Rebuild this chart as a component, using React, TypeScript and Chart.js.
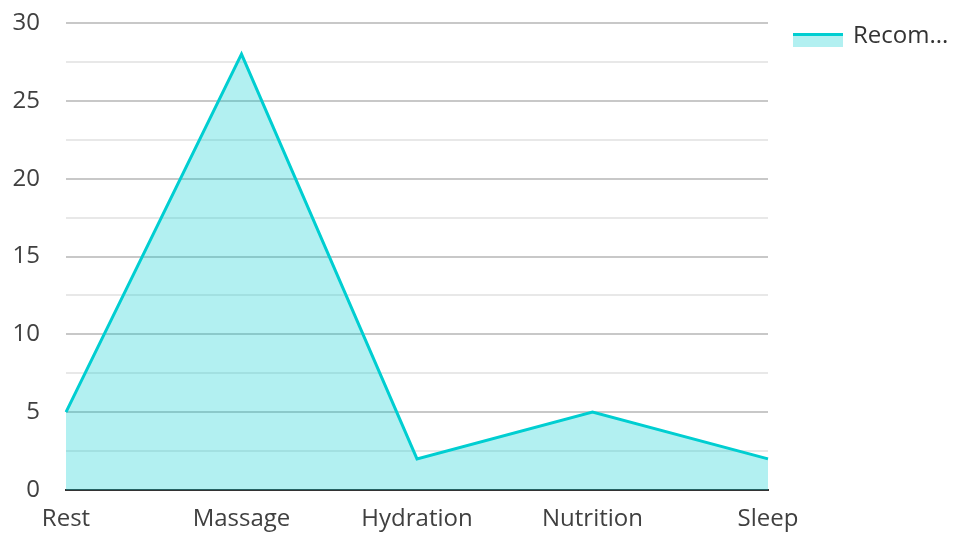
import React, { useEffect, useRef } from "react";
import { Chart, registerables } from "chart.js";

Chart.register(...registerables);

const categories = ["Rest", "Massage", "Hydration", "Nutrition", "Sleep"];
const recommendedValues = [5, 28, 2, 5, 2];
const seriesLabel = "Recom...";
const yMin = 0;
const yMax = 30;
const yStep = 2.5;

const LINE = "#00CED1";
const FILL = "rgba(0,206,209,0.3)";
const FONT = "'Open Sans', 'Noto Sans', sans-serif";
const TEXT = "#404040";
const FONT_SIZE = 24;

const legendPlugin = {
  id: "customLegend",
  afterDraw(chart: any) {
    const ctx = chart.ctx;
    const x = chart.chartArea.right + 25;
    const y = 33;
    ctx.save();
    ctx.fillStyle = FILL;
    ctx.fillRect(x, y, 50, 14);
    ctx.fillStyle = LINE;
    ctx.fillRect(x, y, 50, 3);
    ctx.fillStyle = "#333";
    ctx.font = `${FONT_SIZE}px ${FONT}`;
    ctx.textBaseline = "middle";
    ctx.textAlign = "left";
    ctx.fillText(seriesLabel, x + 60, y + 3);
    ctx.restore();
  },
};

export default function App() {
  const ref = useRef<HTMLCanvasElement | null>(null);
  useEffect(() => {
    if (!ref.current) return;
    const chart = new Chart(ref.current, {
      type: "line",
      data: {
        labels: categories,
        datasets: [
          {
            label: seriesLabel,
            data: recommendedValues,
            borderColor: LINE,
            backgroundColor: FILL,
            borderWidth: 3,
            fill: "origin",
            tension: 0,
            pointRadius: 0,
            pointHoverRadius: 0,
          },
        ],
      },
      options: {
        animation: false,
        responsive: true,
        maintainAspectRatio: false,
        layout: { padding: { left: 0, right: 186, top: 23, bottom: 0 } },
        plugins: {
          legend: { display: false },
          tooltip: { enabled: false },
        },
        scales: {
          x: {
            offset: false,
            grid: { display: false, drawTicks: false },
            border: { display: true, color: "#333", width: 2 },
            afterFit: (s: any) => {
              s.height = 43;
            },
            ticks: {
              color: TEXT,
              font: { size: FONT_SIZE, family: FONT },
              padding: 15,
              maxRotation: 0,
              autoSkip: false,
            },
          },
          y: {
            min: yMin,
            max: yMax,
            border: { display: false },
            afterFit: (s: any) => {
              s.width = 66;
              s.paddingTop = 0;
              s.paddingBottom = 0;
            },
            grid: {
              drawTicks: false,
              color: (c: any) =>
                c.tick && c.tick.value % 5 === 0 ? "#c8c8c8" : "#e8e8e8",
              lineWidth: 2,
            },
            ticks: {
              stepSize: yStep,
              color: TEXT,
              font: { size: FONT_SIZE, family: FONT },
              padding: 26,
              callback: (v: any) => (Number(v) % 5 === 0 ? String(v) : ""),
            },
          },
        },
      },
      plugins: [legendPlugin],
    });
    return () => chart.destroy();
  }, []);
  return (
    <div style={{ position: "fixed", left: 0, top: 0, width: 954, height: 533, background: "#fff" }}>
      <canvas ref={ref} />
    </div>
  );
}
